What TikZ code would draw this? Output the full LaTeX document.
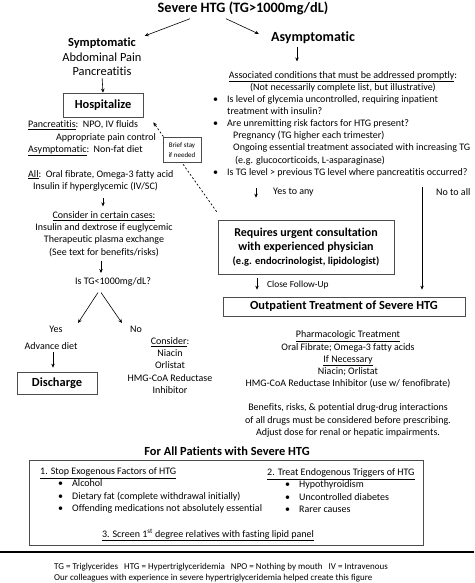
\documentclass[tikz,border=0pt]{standalone}
\usepackage{fontspec}
\setmainfont{Carlito}[Ligatures=NoCommon]
\usetikzlibrary{arrows.meta,positioning}

\newcommand{\bodysize}{\fontsize{10}{12.2}\selectfont}
\newcommand{\boxsize}{\fontsize{12.4}{14}\selectfont\bfseries}
\newcommand{\itm}{\llap{\textbullet\hspace{9pt}}}

\begin{document}
\begin{tikzpicture}[x=1pt,y=-1pt,
    arr/.style={-{Stealth[length=4pt,width=3.5pt]},line width=0.6pt},
    dasharr/.style={arr,dash pattern=on 2pt off 2pt,line width=0.7pt},
    txt/.style={inner sep=0pt,font=\bodysize,align=center},
    txtl/.style={inner sep=0pt,font=\bodysize,align=left},
    boxed/.style={draw=black!70,line width=0.7pt,inner sep=0pt,font=\boxsize}]
    \useasboundingbox (0,0) rectangle (474,583);
    \node[inner sep=0pt,font=\fontsize{14.3}{17}\selectfont\bfseries] (title) at (243,8) {Severe HTG (TG>1000mg/dL)};
    \node[inner sep=0pt,align=center,font=\fontsize{12.4}{14.5}\selectfont] (sympt) at (102,57) {\textbf{Symptomatic}\\Abdominal Pain\\Pancreatitis};
    \node[inner sep=0pt,font=\fontsize{14}{16}\selectfont\bfseries] (asympt) at (313,38) {Asymptomatic};
    \draw[arr] ([shift={(-53pt,-4pt)}]title.south) -- ([shift={(3pt,2pt)}]sympt.north east);
    \draw[arr] ([shift={(-17pt,-4pt)}]title.south) -- ([shift={(-12pt,4pt)}]asympt.west);

    % symptomatic side
    \node[boxed,minimum width=80pt,minimum height=24pt] (hosp) at (103,105) {Hospitalize};
    \draw[arr,shorten <=2pt] (sympt.south) -- (hosp.north);
    \node[txtl,anchor=west] (pancr) at (28,138.5) {\underline{Pancreatitis}:~~NPO, IV fluids\\\hspace*{28pt}Appropriate pain control\\\underline{Asymptomatic}:~~Non-fat diet};
    \node[txtl,anchor=west] (allrx) at (28,180.5) {\underline{All}:~~Oral fibrate, Omega-3 fatty acid\\\hspace*{5pt}Insulin if hyperglycemic (IV/SC)};
    \node[txt] (consid) at (104,234) {\underline{Consider in certain cases:}\\Insulin and dextrose if euglycemic\\Therapeutic plasma exchange\\(See text for benefits/risks)};
    \draw[arr,shorten <=7pt,shorten >=5pt] (allrx.south -| hosp.south) -- (consid.north -| hosp.south);
    \node[txt] (istg) at (113,282) {Is TG<1000mg/dL?};
    \draw[arr,shorten <=4pt,shorten >=4.5pt] ([xshift=-3pt]consid.south) -- ([xshift=-12pt]istg.north);
    \node[txt] (yes) at (56,329) {Yes};
    \node[txt] (no) at (136,329) {No};
    \draw[arr] ([shift={(-15pt,-6pt)}]istg.south) -- ([shift={(22pt,2.5pt)}]yes.north);
    \draw[arr] ([shift={(-12pt,-6pt)}]istg.south) -- ([shift={(-14pt,2.5pt)}]no.north);
    \node[txt] (advance) at (51,346) {Advance diet};
    \node[boxed,minimum width=80pt,minimum height=22pt] (disch) at (57,383) {Discharge};
    \draw[arr,shorten <=2.5pt,shorten >=4pt] ([xshift=2pt]advance.south) -- ([xshift=-4pt]disch.north);
    \node[txt] (niacin) at (170,365.5) {\underline{Consider}:\\Niacin\\Orlistat\\HMG-CoA Reductase\\Inhibitor};

    % asymptomatic side
    \node[txt] (assoc) at (343,82) {\underline{Associated conditions that must be addressed promptly}:\\(Not necessarily complete list, but illustrative)};
    \coordinate (askdown) at (297,0);
    \draw[arr,shorten <=3pt,shorten >=10pt] (asympt.south -| askdown) -- (assoc.north -| askdown);
    \node[txtl,anchor=west] (cond) at (227,136) {\itm Is level of glycemia uncontrolled, requiring inpatient\\treatment with insulin?\\\itm Are unremitting risk factors for HTG present?\\\hspace*{6pt}Pregnancy (TG higher each trimester)\\\hspace*{6pt}Ongoing essential treatment associated with increasing TG\\\hspace*{8pt}(e.g. glucocorticoids, L-asparaginase)\\\itm Is TG level > previous TG level where pancreatitis occurred?};
    \node[boxed,minimum width=176pt,minimum height=54pt,align=center,font=\fontsize{12}{14}\selectfont\bfseries] (consult) at (306,247) {Requires urgent consultation\\with experienced physician\\{\fontsize{10.5}{14}\selectfont (e.g. endocrinologist, lipidologist)}};
    \draw[arr] ([shift={(29pt,-11pt)}]cond.south west) -- ([shift={(-50pt,22pt)}]consult.north);
    \node[txt,anchor=west] (yesany) at (273,192) {Yes to any};
    \node[txt,anchor=west] (noall) at (436,192) {No to all};
    \node[boxed,minimum width=242pt,minimum height=19pt] (outpt) at (344,306.5) {Outpatient Treatment of Severe HTG};
    \draw[arr] ([shift={(-14pt,5pt)}]noall.west) -- ([shift={(78pt,7pt)}]outpt.north);
    \node[txt,anchor=west,font=\fontsize{9.4}{12}\selectfont] (close) at (267,285) {Close Follow-Up};
    \draw[arr] ([shift={(-49pt,-4pt)}]consult.south) -- ([shift={(-87pt,7pt)}]outpt.north);
    \node[txt] (pharma) at (348,384) {\underline{Pharmacologic Treatment}\\Oral Fibrate; Omega-3 fatty acids\\\underline{If Necessary}\\Niacin; Orlistat\\HMG-CoA Reductase Inhibitor (use w/ fenofibrate)\\[12pt]Benefits, risks, \& potential drug-drug interactions\\of all drugs must be considered before prescribing.\\Adjust dose for renal or hepatic impairments.};

    % brief stay
    \draw[dasharr] ([shift={(-1pt,8pt)}]consult.north west) -- ([shift={(10pt,-5pt)}]hosp.south east);
    \node[draw=black!70,fill=white,line width=0.6pt,inner sep=0pt,minimum width=38pt,minimum height=25pt,align=center,font=\fontsize{7}{10.5}\selectfont] (brief) at (182,150) {Brief stay\\if needed};

    % all patients
    \node[inner sep=0pt,font=\boxsize] (forall) at (227,451) {For All Patients with Severe HTG};
    \node[draw=black!70,line width=0.7pt,minimum width=394pt,minimum height=85pt,inner sep=0pt] (allbox) at (226,502.5) {};
    \node[txtl,anchor=west] (exo) at (40,490.5) {\underline{1. Stop Exogenous Factors of HTG}\\\hspace*{32pt}\itm Alcohol\\\hspace*{32pt}\itm Dietary fat (complete withdrawal initially)\\\hspace*{32pt}\itm Offending medications not absolutely essential};
    \node[txtl,anchor=west] (endo) at (267,490.5) {\underline{2. Treat Endogenous Triggers of HTG}\\\hspace*{32pt}\itm Hypothyroidism\\\hspace*{32pt}\itm Uncontrolled diabetes\\\hspace*{32pt}\itm Rarer causes};
    \node[txt] (screen) at (208,535) {\underline{3. Screen 1\textsuperscript{st} degree relatives with fasting lipid panel}};

    \draw[line width=2pt] (0,552) -- (474,552);
    \node[txtl,anchor=west,font=\fontsize{9}{11}\selectfont] (legend) at (54,572.5) {TG = Triglycerides~~~HTG = Hypertriglyceridemia~~~NPO = Nothing by mouth~~~IV = Intravenous\\Our colleagues with experience in severe hypertriglyceridemia helped create this figure};
\end{tikzpicture}
\end{document}
